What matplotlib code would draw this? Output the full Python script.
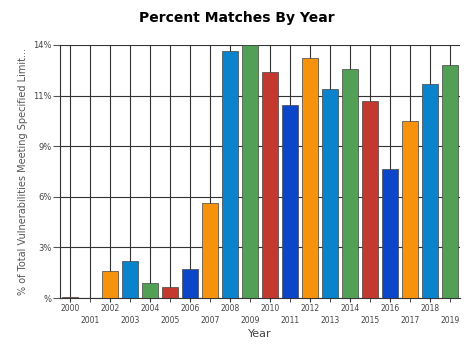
import matplotlib
matplotlib.use("Agg")
import matplotlib.pyplot as plt
import numpy as np

years = list(range(2000, 2020))
percent = [0.08, 0.0, 1.53, 2.09, 0.84, 0.63, 1.64, 5.31, 13.88, 14.2,
           12.67, 10.81, 13.49, 11.75, 12.84, 11.06, 7.22, 9.95, 12.01, 13.08]
palette = ["#c4392f", "#0b45c9", "#f7920c", "#0a83cd", "#52a055"]

fig = plt.figure(figsize=(4.74, 3.55), dpi=100)
ax = fig.add_axes([60 / 474, 57 / 355, 400 / 474, 253 / 355])

x = np.arange(len(years))
colors = [palette[i % 5] for i in range(len(years))]
ax.bar(x, percent, width=0.8, color=colors, edgecolor="#444444", linewidth=0.5, zorder=3)

ymax = max(percent)
ax.set_xlim(-0.5, len(years) - 0.5)
ax.set_ylim(0, ymax)

yt = np.linspace(0, ymax, 6)
ax.set_yticks(yt)
ax.set_yticklabels([(str(int(round(v))) if round(v) else "") + "%" for v in yt],
                   fontsize=6, color="#444444")

# even years on the first row, odd years one row lower
ax.set_xticks(x[::2])
ax.set_xticklabels([str(y) for y in years[::2]], fontsize=5.5, color="#444444")
ax.set_xticks(x[1::2], minor=True)
ax.set_xticklabels([str(y) for y in years[1::2]], minor=True, fontsize=5.5, color="#444444")
ax.tick_params(axis="x", which="major", length=3, pad=1.5, color="#333333")
ax.tick_params(axis="x", which="minor", length=3, pad=10, color="#333333")
ax.tick_params(axis="y", length=5, pad=1, color="#555555")

ax.grid(True, which="both", axis="x", color="#333333", linewidth=0.8, zorder=0)
ax.grid(True, which="major", axis="y", color="#333333", linewidth=0.8, zorder=0)
ax.set_axisbelow(True)

for s in ["top", "right"]:
    ax.spines[s].set_visible(False)
ax.spines["left"].set_color("#333333")
ax.spines["bottom"].set_color("#333333")

ax.set_xlabel("Year", fontsize=8, color="#444444", labelpad=3)
ax.set_ylabel("% of Total Vulnerabilities Meeting Specified Limit...", fontsize=7,
              color="#555555", labelpad=4)
fig.suptitle("Percent Matches By Year", fontsize=10, fontweight="bold", y=0.95, va="center")

fig.savefig("out.png", dpi=100)
